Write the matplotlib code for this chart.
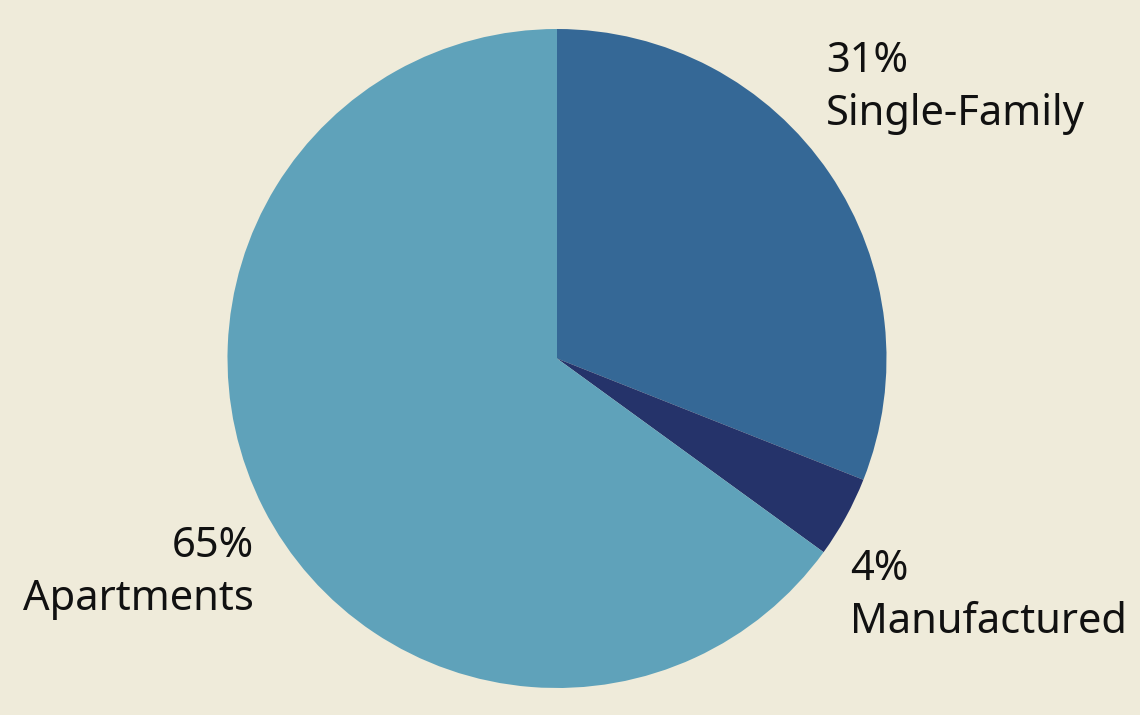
import matplotlib
matplotlib.use('Agg')
import matplotlib.pyplot as plt

# === Data ===
categories = ['Single-Family', 'Manufactured', 'Apartments']
shares = [31, 4, 65]
colors = ['#356896', '#25336a', '#5fa2ba']

# === Layout (pixel space, y up) ===
W, H = 1140, 715
center = (557, H - 358.5)
radius = 329.5
bg = '#efebda'

# label anchors: (x, baseline of first line, alignment)
label_pos = {
    'Single-Family': (826, H - 72, 'left'),
    'Manufactured': (850, H - 580, 'left'),
    'Apartments': (254, H - 557, 'right'),
}
line_gap = 53

plt.rcParams['font.family'] = ['Noto Sans', 'DejaVu Sans']

fig = plt.figure(figsize=(W / 100, H / 100), dpi=100, facecolor=bg)
ax = fig.add_axes([0, 0, 1, 1])
ax.set_facecolor(bg)

ax.pie(shares, colors=colors, startangle=90, counterclock=False,
       center=center, radius=radius, frame=True,
       wedgeprops={'linewidth': 0})
ax.set_xlim(0, W)
ax.set_ylim(0, H)
ax.set_aspect('equal')
ax.axis('off')

for cat, val in zip(categories, shares):
    x, y, ha = label_pos[cat]
    ax.text(x, y, f'{val}%', ha=ha, va='baseline', fontsize=30, color='#111111')
    ax.text(x, y - line_gap, cat, ha=ha, va='baseline', fontsize=30, color='#111111')

fig.savefig('out.png', dpi=100, facecolor=bg)
